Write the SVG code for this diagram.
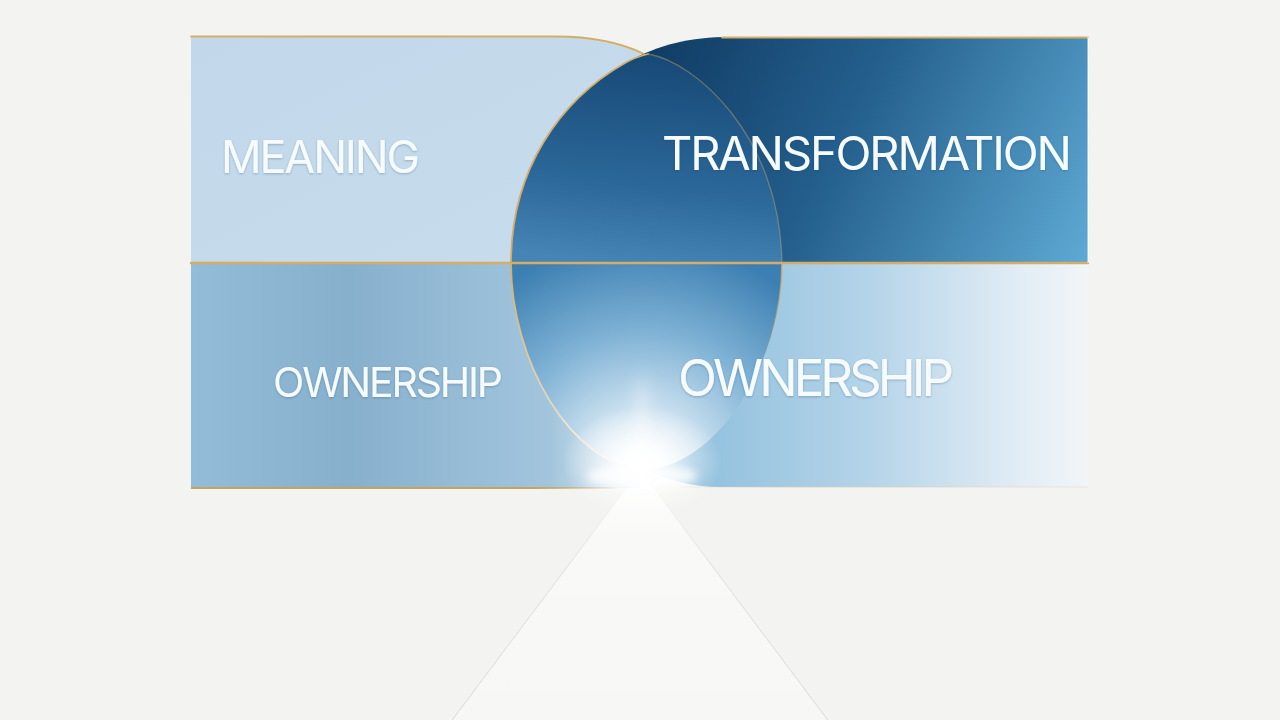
<svg xmlns="http://www.w3.org/2000/svg" width="1280" height="720" viewBox="0 0 1280 720">
<defs>
<style>
.lbl{font-family:Inter,"Open Sans","Liberation Sans",sans-serif;font-weight:400;fill:#f6fbff;filter:url(#ts)}
.gold{fill:none;stroke:#d6ad66;stroke-linecap:round}
</style>
<filter id="ts" x="-10%" y="-30%" width="120%" height="160%"><feDropShadow dx="0" dy="1" stdDeviation="1" flood-color="#1b3d5c" flood-opacity="0.3"/></filter>
<filter id="blur4" x="-50%" y="-50%" width="200%" height="200%"><feGaussianBlur stdDeviation="4"/></filter>
<filter id="blur8" x="-200%" y="-50%" width="500%" height="200%"><feGaussianBlur stdDeviation="8"/></filter>
<linearGradient id="gTL" x1="0" y1="0" x2="1" y2="1">
<stop offset="0" stop-color="#c2d8ea"/><stop offset="1" stop-color="#c7dcec"/>
</linearGradient>
<linearGradient id="gTR" gradientUnits="userSpaceOnUse" x1="640" y1="40" x2="1088" y2="263">
<stop offset="0" stop-color="#0f3a62"/><stop offset="0.45" stop-color="#245f8d"/><stop offset="1" stop-color="#5eaad4"/>
</linearGradient>
<linearGradient id="gBL" gradientUnits="userSpaceOnUse" x1="191" y1="0" x2="640" y2="0">
<stop offset="0" stop-color="#93bcd9"/><stop offset="0.35" stop-color="#87b0cd"/><stop offset="0.8" stop-color="#a2c5dd"/><stop offset="1" stop-color="#e6f0f7"/>
</linearGradient>
<linearGradient id="gBR" gradientUnits="userSpaceOnUse" x1="640" y1="0" x2="1088" y2="0">
<stop offset="0" stop-color="#86bada"/><stop offset="0.5" stop-color="#b3d3e8"/><stop offset="0.85" stop-color="#e2edf5"/><stop offset="1" stop-color="#f1f5f8"/>
</linearGradient>
<linearGradient id="gCU" gradientUnits="userSpaceOnUse" x1="630" y1="55" x2="600" y2="263">
<stop offset="0" stop-color="#184b79"/><stop offset="0.6" stop-color="#2d6b9d"/><stop offset="1" stop-color="#4b8cbd"/>
</linearGradient>
<radialGradient id="gCL" gradientUnits="userSpaceOnUse" cx="642" cy="470" r="230">
<stop offset="0" stop-color="#ffffff"/><stop offset="0.25" stop-color="#cfe3f1"/><stop offset="0.6" stop-color="#7fb2d5"/><stop offset="1" stop-color="#3c7fb2"/>
</radialGradient>
<radialGradient id="glow" cx="0.5" cy="0.5" r="0.5">
<stop offset="0" stop-color="#ffffff" stop-opacity="1"/><stop offset="0.3" stop-color="#ffffff" stop-opacity="0.8"/><stop offset="1" stop-color="#ffffff" stop-opacity="0"/>
</radialGradient>
<linearGradient id="gBeam" x1="0" y1="0" x2="0" y2="1">
<stop offset="0" stop-color="#ffffff" stop-opacity="0.9"/><stop offset="0.3" stop-color="#ffffff" stop-opacity="0.5"/><stop offset="1" stop-color="#ffffff" stop-opacity="0.35"/>
</linearGradient>
<linearGradient id="gBeamEdge" gradientUnits="userSpaceOnUse" x1="0" y1="470" x2="0" y2="720">
<stop offset="0" stop-color="#e0e0de" stop-opacity="0"/><stop offset="0.4" stop-color="#e0e0de" stop-opacity="0.8"/><stop offset="1" stop-color="#dcdcda" stop-opacity="1"/>
</linearGradient>
<linearGradient id="gGoldFadeL" gradientUnits="userSpaceOnUse" x1="191" y1="0" x2="620" y2="0">
<stop offset="0" stop-color="#c9a25e"/><stop offset="0.8" stop-color="#c9a25e"/><stop offset="1" stop-color="#c9a25e" stop-opacity="0"/>
</linearGradient>
<linearGradient id="gGoldFadeR" gradientUnits="userSpaceOnUse" x1="660" y1="0" x2="1088" y2="0">
<stop offset="0" stop-color="#d8c8a8" stop-opacity="0"/><stop offset="0.3" stop-color="#d8c8a8" stop-opacity="0.5"/><stop offset="1" stop-color="#e6dcc8" stop-opacity="0.4"/>
</linearGradient>
<linearGradient id="gArcR" gradientUnits="userSpaceOnUse" x1="0" y1="260" x2="0" y2="360">
<stop offset="0" stop-color="#d6ad66" stop-opacity="0.9"/><stop offset="1" stop-color="#d6ad66" stop-opacity="0"/>
</linearGradient>
<linearGradient id="gArcL" gradientUnits="userSpaceOnUse" x1="0" y1="263" x2="0" y2="470">
<stop offset="0" stop-color="#d6ad66"/><stop offset="0.7" stop-color="#e8d8b8"/><stop offset="1" stop-color="#ffffff"/>
</linearGradient>
</defs>

<rect width="1280" height="720" fill="#f3f3f1"/>

<g id="beam">
<path d="M640,470 L830,720 L450,720 Z" fill="url(#gBeam)"/>
<path d="M640,470 L452,720 M640,470 L828,720" fill="none" stroke="url(#gBeamEdge)" stroke-width="1.2"/>
</g>

<g id="meaning">
<path d="M191,36 H555 C595,36 622,43 646,56 L660,263 H191 Z" fill="url(#gTL)"/>
<text class="lbl" x="221" y="173" font-size="45" textLength="199">MEANING</text>
</g>

<g id="transformation">
<path d="M511,263 C511,170 560,100 625,63 C660,44 690,37 730,37 H1088 V263 Z" fill="url(#gTR)"/>
<path d="M511,263 C511,170 560,100 625,63 C632,59 640,56 648,54 C695,62 780,135 782,263 Z" fill="url(#gCU)" opacity="0.9"/>
</g>

<g id="ownership-left">
<path d="M191,263 H640 V488 H191 Z" fill="url(#gBL)"/>
</g>

<g id="ownership-right">
<path d="M640,263 H1088 V487 H720 C690,487 670,480 645,470 Z" fill="url(#gBR)"/>
</g>

<g id="center">
<path d="M511,263 H782 C782,360 720,465 645,470 C570,465 511,360 511,263 Z" fill="url(#gCL)"/>
</g>

<g id="glow">
<ellipse cx="642" cy="462" rx="80" ry="55" fill="url(#glow)"/>
<ellipse cx="642" cy="430" rx="4" ry="55" fill="#ffffff" opacity="0.7" filter="url(#blur8)"/>
<ellipse cx="642" cy="476" rx="55" ry="12" fill="#ffffff" opacity="0.8" filter="url(#blur4)"/>
</g>

<g id="lines">
<path class="gold" d="M191,36.5 H555 C595,36.5 622,43 644,54" stroke-width="1.8"/>
<path class="gold" d="M722,37.5 H1088" stroke-width="1.8"/>
<path class="gold" d="M191,263 H1088" stroke-width="2.4"/>
<path d="M191,488 H620" fill="none" stroke="url(#gGoldFadeL)" stroke-width="2"/>
<path d="M680,487 H1088" fill="none" stroke="url(#gGoldFadeR)" stroke-width="1.5"/>
<path class="gold" d="M511,263 C511,170 560,100 625,63 C632,59 640,56 648,54" stroke-width="1.8"/>
<path d="M511,263 C511,360 570,465 645,470" fill="none" stroke="url(#gArcL)" stroke-width="1.8"/>
<path d="M648,54 C695,62 780,135 782,263" fill="none" stroke="#d6ad66" stroke-opacity="0.4" stroke-width="1.3"/>
<path d="M782,263 C782,360 720,465 645,470" fill="none" stroke="url(#gArcR)" stroke-width="1.6"/>
<path d="M1088,37 V263" fill="none" stroke="#ffffff" stroke-opacity="0.7" stroke-width="1.2"/>
</g>

<g id="labels">
<text class="lbl" x="662" y="170" font-size="47" textLength="410">TRANSFORMATION</text>
<text class="lbl" x="273" y="397" font-size="41" textLength="230">OWNERSHIP</text>
<text class="lbl" x="678" y="396" font-size="51" textLength="276">OWNERSHIP</text>
</g>
</svg>
